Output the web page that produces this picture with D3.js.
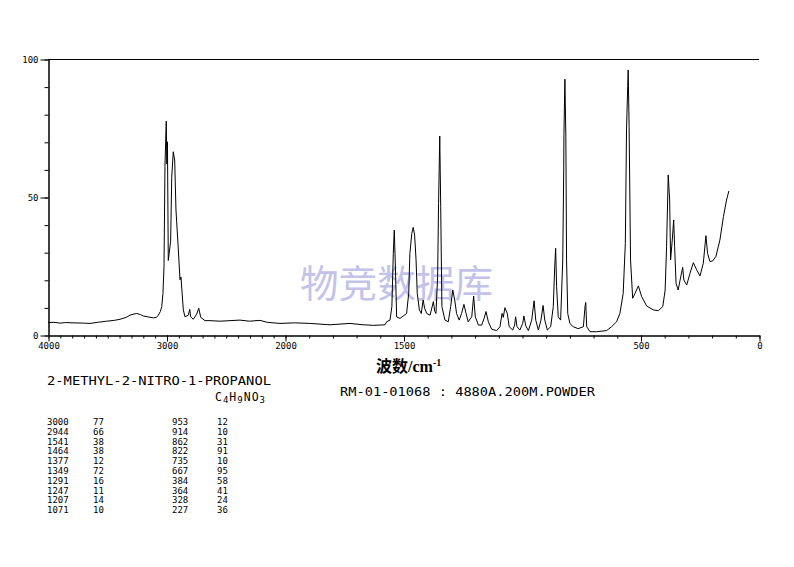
<!DOCTYPE html>
<html>
<head>
<meta charset="utf-8">
<script src="https://cdn.jsdelivr.net/npm/d3@7"></script>
<style>
  html, body { margin: 0; padding: 0; background: #fff; }
  svg { display: block; }
</style>
</head>
<body>
<svg id="chart" width="794" height="567"></svg>
<script>
// ---- Spectrum data (wavenumber in cm-1, relative intensity) ----
const wavenumber = [
  4000, 3950, 3900, 3850, 3789, 3700, 3646, 3580, 3505, 3440, 3392, 3340, 3308, 3275, 3251, 3220,
  3196, 3150, 3111, 3085, 3069, 3052, 3040, 3030, 3021, 3013, 3002, 2997, 2992, 2985, 2965, 2956,
  2943, 2931, 2920, 2900, 2886, 2878, 2868, 2858, 2844, 2816, 2804, 2796, 2774, 2745, 2728, 2711,
  2675, 2633, 2550, 2464, 2380, 2300, 2211, 2150, 2042, 1960, 1895, 1810, 1726, 1670, 1627, 1599,
  1578, 1571, 1557, 1549, 1543, 1539, 1535, 1529, 1515, 1501, 1487, 1478, 1473, 1465, 1459, 1453,
  1447, 1442, 1433, 1425, 1417, 1411, 1402, 1388, 1379, 1374, 1368, 1363, 1356, 1352, 1347, 1343,
  1338, 1325, 1311, 1301, 1292, 1284, 1276, 1265, 1255, 1245, 1236, 1227, 1212, 1204, 1197, 1184,
  1170, 1160, 1152, 1142, 1128, 1107, 1093, 1084, 1079, 1072, 1062, 1054, 1039, 1031, 1027, 1021,
  1009, 997, 992, 984, 973, 959, 949, 942, 931, 920, 911, 904, 893, 879, 868, 862,
  858, 854, 847, 837, 828, 824, 823, 819, 815, 812, 807, 798, 784, 763, 741, 734,
  731, 727, 713, 685, 643, 622, 601, 587, 573, 564, 559, 554, 552, 548, 542, 533,
  523, 509, 495, 474, 446, 425, 406, 396, 390, 383, 377, 373, 366, 360, 356, 350,
  341, 333, 322, 317, 305, 291, 277, 263, 249, 235, 224, 217, 207, 196, 182, 165,
  150, 137, 127
];
const intensity = [
  4.5, 4.6, 4.3, 4.5, 4.4, 4.3, 4.2, 4.6, 5.0, 5.3, 5.7, 6.4, 7.2, 7.6, 7.8, 7.4,
  6.9, 6.5, 6.2, 6.4, 7.2, 8.5, 10.3, 15, 24.7, 61, 77.5, 62, 70, 27, 34, 57,
  66.4, 63.4, 45.3, 30.8, 20, 21, 15, 9.1, 6.6, 7.2, 9.3, 6.6, 5.7, 7.6, 9.7, 6.4,
  5.2, 5.2, 5.0, 5.2, 5.4, 5.0, 5.3, 4.6, 4.2, 4.4, 4.2, 3.7, 4.2, 3.7, 3.5, 3.6,
  3.7, 4.8, 5.4, 10.3, 29.6, 38, 27.2, 6.6, 6.0, 6.9, 7.8, 15.1, 29.6, 36.8, 39, 36.2,
  27.2, 15.1, 9.1, 7.8, 12.7, 9.7, 7.8, 7.2, 10.3, 12.1, 8.5, 7.8, 21.1, 47.7, 72.1, 46.5,
  10.3, 5.4, 4.8, 10.3, 16.3, 12.7, 7.8, 5.4, 7.8, 11.1, 7.8, 4.8, 6.6, 14.1, 6.6, 3.6,
  3.6, 6.0, 8.5, 4.8, 2.1, 1.6, 3.0, 7.8, 6.4, 9.9, 7.8, 3.0, 1.8, 3.6, 6.6, 3.0,
  1.8, 4.2, 6.9, 3.3, 1.6, 5.4, 12.4, 5.4, 1.8, 5.4, 10.7, 5.4, 1.8, 3.0, 10.3, 24.7,
  31.4, 17.5, 6.6, 5.4, 27.2, 59.8, 73, 92.7, 71.8, 27.2, 7.8, 4.2, 3.0, 2.3, 3.0, 10.3,
  11.8, 3.0, 1.2, 1.2, 1.6, 3.0, 4.8, 7.8, 15.1, 33.2, 74.3, 90, 96, 75.5, 27.2, 13.3,
  15.1, 17.8, 13.9, 10.5, 9.1, 8.8, 10.3, 16.3, 32, 58, 48.9, 27.2, 34.4, 41.7, 32, 18.7,
  16.3, 19.9, 24.5, 19.9, 18.1, 22.4, 26.2, 23.6, 21.4, 26, 36, 29.6, 26.6, 26.8, 28.4, 34.4,
  42.9, 48.9, 52.2
];

// ---- Axis tick labels ----
const xTickLabels = [4000, 3000, 2000, 1500, 500, 0];
const xMinorTicks = d3.range(4000, -1, -100);
const yTickLabels = [0, 50, 100];
const yMinorTicks = d3.range(0, 101, 10);

// ---- Peak table ----
const peakWnLeft  = [3000, 2944, 1541, 1464, 1377, 1349, 1291, 1247, 1207, 1071];
const peakIntLeft = [77, 66, 38, 38, 12, 72, 16, 11, 14, 10];
const peakWnRight  = [953, 914, 862, 822, 735, 667, 384, 364, 328, 227];
const peakIntRight = [12, 10, 31, 91, 10, 95, 58, 41, 24, 36];

const compoundName = "2-METHYL-2-NITRO-1-PROPANOL";
const sampleInfo = "RM-01-01068 : 4880A.200M.POWDER";
const watermark = "物竞数据库";

// ---- Drawing ----
const svg = d3.select("#chart");
const mono = "'DejaVu Sans Mono', 'Liberation Mono', monospace";
const intFmt = d3.format("d");

const plotL = 48, plotR = 759, plotT = 59, plotB = 335;
// The horizontal axis is piecewise: 4000–2000 at half the scale of 2000–0
const x = d3.scaleLinear().domain([4000, 2000, 0]).range([plotL, 285, plotR]);
const y = d3.scaleLinear().domain([0, 100]).range([plotB, plotT]);

// watermark (under the trace)
svg.append("text")
  .attr("x", 300).attr("y", 280)
  .attr("dominant-baseline", "central")
  .attr("textLength", 193).attr("lengthAdjust", "spacingAndGlyphs")
  .style("font-family", "'Noto Sans CJK SC', sans-serif")
  .style("font-size", "38px")
  .style("fill", "#c3c3ea")
  .text(watermark);

// top frame line
svg.append("line")
  .attr("x1", plotL).attr("x2", plotR).attr("y1", y(100) + 0.5).attr("y2", y(100) + 0.5)
  .attr("stroke", "#000").attr("stroke-width", 1);

// y axis: minor ticks then labelled major ticks
const gy = svg.append("g").attr("transform", `translate(${plotL + 0.5},0.5)`);
gy.call(d3.axisLeft(y).tickValues(yMinorTicks).tickSize(4).tickSizeOuter(0).tickFormat(""));
const gy2 = svg.append("g").attr("transform", `translate(${plotL + 0.5},0.5)`);
gy2.call(d3.axisLeft(y).tickValues(yTickLabels).tickSize(8).tickSizeOuter(0).tickPadding(2).tickFormat(intFmt));

// x axis
const gx = svg.append("g").attr("transform", `translate(0.5,${plotB + 0.5})`);
gx.call(d3.axisBottom(x).tickValues(xMinorTicks).tickSize(3).tickSizeOuter(0).tickFormat(""));
const gx2 = svg.append("g").attr("transform", `translate(0.5,${plotB + 0.5})`);
gx2.call(d3.axisBottom(x).tickValues(xTickLabels).tickSize(6).tickSizeOuter(0).tickPadding(1).tickFormat(intFmt));

svg.selectAll(".domain").attr("stroke", "#000");
svg.selectAll(".tick line").attr("stroke", "#000");
svg.selectAll(".tick text")
  .style("font-family", mono).style("font-size", "9px").style("fill", "#000");

// spectrum trace
const pts = wavenumber.map((w, i) => ({ w, v: intensity[i] }));
svg.append("path")
  .datum(pts)
  .attr("fill", "none")
  .attr("stroke", "#000")
  .attr("stroke-width", 1)
  .attr("stroke-linejoin", "miter")
  .attr("d", d3.line().x(d => x(d.w)).y(d => y(d.v)));

// x axis title: 波数/cm-1
const xt = svg.append("text")
  .attr("x", 376).attr("y", 372)
  .style("font-size", "16px").style("font-weight", "bold").style("fill", "#000");
xt.append("tspan").style("font-family", "'Noto Sans CJK SC', sans-serif").text("波数");
xt.append("tspan").style("font-family", "'Liberation Serif', serif").text("/cm");
xt.append("tspan").attr("dy", -6).style("font-family", "'Liberation Serif', serif")
  .style("font-size", "10px").text("-1");

// compound name
svg.append("text")
  .attr("x", 47).attr("y", 385)
  .attr("textLength", 224).attr("lengthAdjust", "spacingAndGlyphs")
  .style("font-family", mono).style("font-size", "11.5px").style("fill", "#000")
  .text(compoundName);

// formula C4H9NO3
const ft = svg.append("text")
  .attr("x", 215).attr("y", 401)
  .style("font-family", mono).style("font-size", "11.5px").style("fill", "#000")
  .style("letter-spacing", "1px");
[["C", false], ["4", true], ["H", false], ["9", true], ["N", false], ["O", false], ["3", true]]
  .forEach(([t, sub], i, arr) => {
    const prevSub = i > 0 && arr[i - 1][1];
    const dy = sub && !prevSub ? 2 : (!sub && prevSub ? -2 : 0);
    ft.append("tspan").attr("dy", dy).style("font-size", sub ? "9px" : "11.5px").text(t);
  });

// sample info
svg.append("text")
  .attr("x", 340).attr("y", 396)
  .attr("textLength", 255).attr("lengthAdjust", "spacingAndGlyphs")
  .style("font-family", mono).style("font-size", "11.5px").style("fill", "#000")
  .text(sampleInfo);

// peak table
const tbl = svg.append("g").style("font-family", mono).style("font-size", "9px").style("fill", "#000");
const rowY = i => 425 + i * 9.8;
peakWnLeft.forEach((w, i) => {
  tbl.append("text").attr("x", 47).attr("y", rowY(i)).text(w);
  tbl.append("text").attr("x", 93).attr("y", rowY(i)).text(peakIntLeft[i]);
  tbl.append("text").attr("x", 172).attr("y", rowY(i)).text(peakWnRight[i]);
  tbl.append("text").attr("x", 217).attr("y", rowY(i)).text(peakIntRight[i]);
});
</script>
</body>
</html>
